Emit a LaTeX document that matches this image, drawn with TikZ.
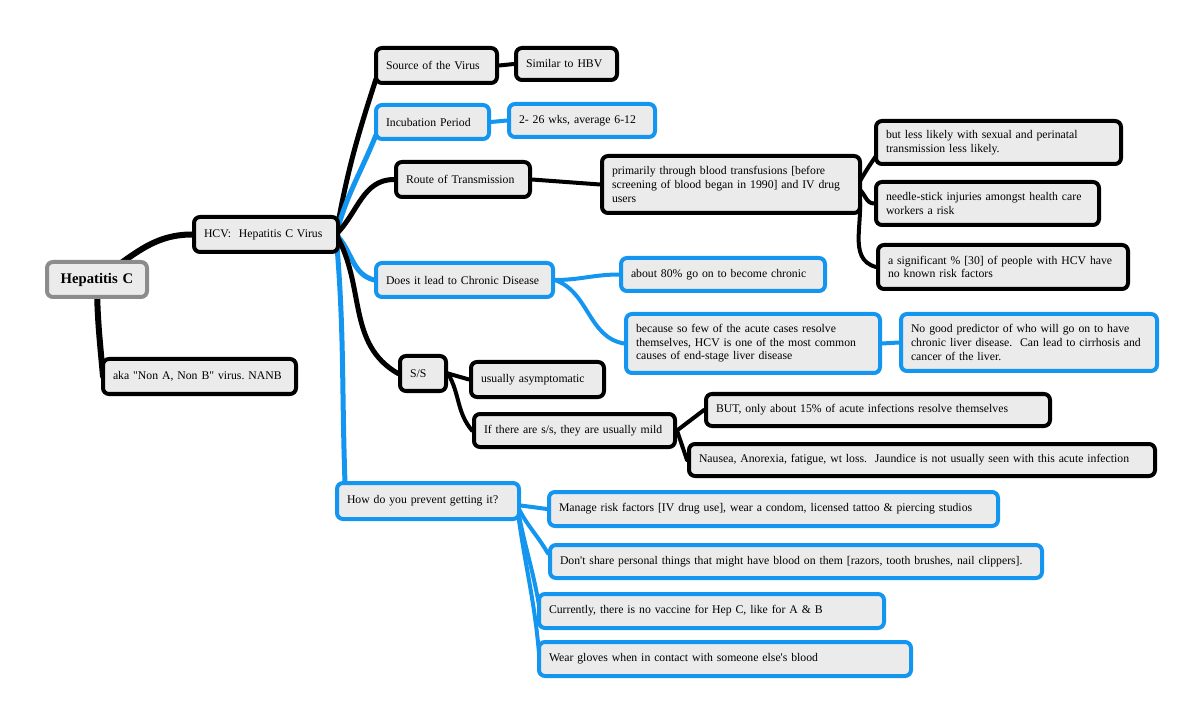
\documentclass[tikz,border=0pt]{standalone}
\usepackage{fontspec}
\setmainfont{Liberation Serif}[Ligatures=TeXOff]
\usetikzlibrary{backgrounds,calc}
\definecolor{mblue}{RGB}{20,150,240}
\definecolor{mfill}{RGB}{235,235,235}
\definecolor{mgray}{RGB}{140,140,140}
\frenchspacing
\newcommand\bxsep{7.5}
\newcommand\bx[7]{%
 \pgfmathsetmacro\bxw{(#4-#2-4)*0.75-2*\bxsep}%
 \pgfmathsetmacro\bxh{(#5-#3-4)*0.75}%
 \node[box,#6,anchor=north west,text width=\bxw pt,minimum height=\bxh pt] (#1) at (#2+2,-#3-2) {#7};}
\tikzset{
 box/.style={draw=black,fill=mfill,line width=3pt,rounded corners=4.5pt,
   inner xsep=\bxsep pt,inner ysep=2pt,align=left,
   font=\fontsize{8.8}{10.2}\selectfont},
 bbox/.style={draw=mblue},
 gbox/.style={draw=mgray},
 conn/.style={line width=3pt,line cap=round},
 lone/.style={conn,line width=4.5pt},
 ltwo/.style={conn,line width=3.75pt},
 blue/.style={draw=mblue},
}
\begin{document}
\begin{tikzpicture}[x=0.75pt,y=0.75pt]
\useasboundingbox (0,0) rectangle (1200,-720);
\bx{hep}{43}{258}{147}{297}{gbox,align=center,font=\fontsize{11}{13}\selectfont\bfseries}{Hepatitis C}
\bx{aka}{99}{355}{296}{394}{}{\mbox{aka "Non A, Non B" virus. NANB}}
\bx{hcv}{190}{213}{338}{252}{}{\mbox{HCV:\ \ Hepatitis C Virus}}
\bx{src}{372}{44}{497}{83}{}{\mbox{Source of the Virus}}
\bx{sim}{512}{44}{617}{80}{}{\mbox{Similar to HBV}}
\bx{inc}{372}{101}{489}{139}{bbox}{\mbox{Incubation Period}}
\bx{inca}{505}{100}{655}{137}{bbox}{\mbox{2- 26 wks, average 6-12}}
\bx{route}{392}{158}{530}{197}{}{\mbox{Route of Transmission}}
\bx{prim}{598}{152}{860}{213}{}{\mbox{primarily through blood transfusions [before}\\\mbox{screening of blood began in 1990] and IV drug}\\\mbox{users}}
\bx{but}{872}{117}{1121}{164}{}{\mbox{but less likely with sexual and perinatal}\\\mbox{transmission less likely.}}
\bx{needle}{872}{178}{1099}{225}{}{\mbox{needle-stick injuries amongst health care}\\\mbox{workers a risk}}
\bx{sig}{874}{241}{1128}{289}{}{\mbox{a significant \% [30] of people with HCV have}\\\mbox{no known risk factors}}
\bx{does}{372}{259}{553}{297}{bbox}{\mbox{Does it lead to Chronic Disease}}
\bx{eighty}{617}{254}{825}{291}{bbox}{\mbox{about 80\% go on to become chronic}}
\bx{bec}{622}{310}{880}{373}{bbox}{\mbox{because so few of the acute cases resolve}\\\mbox{themselves, HCV is one of the most common}\\\mbox{causes of end-stage liver disease}}
\bx{nog}{897}{310}{1157}{371}{bbox}{\mbox{No good predictor of who will go on to have}\\\mbox{chronic liver disease.\ \ Can lead to cirrhosis and}\\\mbox{cancer of the liver.}}
\bx{ss}{396}{352}{446}{391}{}{\mbox{S/S}}
\bx{usu}{467}{358}{604}{397}{}{\mbox{usually asymptomatic}}
\bx{ifs}{470}{410}{675}{447}{}{\mbox{If there are s/s, they are usually mild}}
\bx{bfif}{702}{390}{1050}{426}{}{\mbox{BUT, only about 15\% of acute infections resolve themselves}}
\bx{naus}{685}{440}{1155}{476}{}{\mbox{Nausea, Anorexia, fatigue, wt loss.\ \ Jaundice is not usually seen with this acute infection}}
\bx{how}{333}{479}{519}{519}{bbox}{\mbox{How do you prevent getting it?}}
\bx{man}{545}{488}{998}{526}{bbox}{\mbox{Manage risk factors [IV drug use], wear a condom, licensed tattoo \& piercing studios}}
\bx{dont}{546}{541}{1042}{578}{bbox}{\mbox{Don't share personal things that might have blood on them [razors, tooth brushes, nail clippers].}}
\bx{curr}{535}{590}{884}{628}{bbox}{\mbox{Currently, there is no vaccine for Hep C, like for A \& B}}
\bx{wear}{535}{638}{911}{676}{bbox}{\mbox{Wear gloves when in contact with someone else's blood}}
\begin{pgfonlayer}{background}
\draw[lone] (hep.center) to[out=32,in=180] (hcv.west);
\draw[lone] (hep.center) to[out=-90,in=95] ($(aka.west)+(2,0)$);
\coordinate (h0) at ($(hcv.east)+(-4,0)$);
\draw[ltwo] (h0) to[out=80,in=-108] ($(src.south west)+(2,6)$);
\draw[ltwo,blue] (h0) to[out=75,in=-112] ($(inc.south west)+(2,6)$);
\draw[ltwo] (h0) to[out=45,in=180] (route.west);
\draw[ltwo,blue] (h0) to[out=-45,in=165] (does.west);
\draw[ltwo] (h0) to[out=-60,in=150] (ss.west);
\draw[ltwo,blue] (h0) to[out=-85,in=92] ($(how.north west)+(10,-2)$);
\draw[conn] (src.east) -- (sim.west);
\draw[conn,blue] (inc.east) -- (inca.west);
\draw[conn] (route.east) -- (prim.west);
\draw[conn] ($(prim.east)+(-4,0)$) to[out=60,in=235] ($(but.south west)+(2,10)$);
\draw[conn] ($(prim.east)+(-4,-4)$) to[out=-30,in=180] (needle.west);
\draw[conn] ($(prim.east)+(-4,-4)$) to[out=-75,in=165] (sig.west);
\draw[conn,blue] (does.east) to[out=0,in=180] (eighty.west);
\draw[conn,blue] (does.east) to[out=-20,in=170] (bec.west);
\draw[conn,blue] (bec.east) -- (nog.west);
\draw[conn] (ss.east) -- (usu.west);
\draw[conn] (ss.east) to[out=-60,in=130] (ifs.west);
\draw[conn] (ifs.east) -- (bfif.west);
\draw[conn] (ifs.east) -- (naus.west);
\coordinate (w0) at ($(how.east)+(-4,-4)$);
\draw[conn,blue] (w0) -- (man.west);
\draw[conn,blue] (w0) to[out=-65,in=120] ($(dont.west)+(0,8)$);
\draw[conn,blue] (w0) to[out=-80,in=100] ($(curr.west)+(2,6)$);
\draw[conn,blue] (w0) to[out=-83,in=95] ($(wear.west)+(2,6)$);
\end{pgfonlayer}
\end{tikzpicture}
\end{document}
